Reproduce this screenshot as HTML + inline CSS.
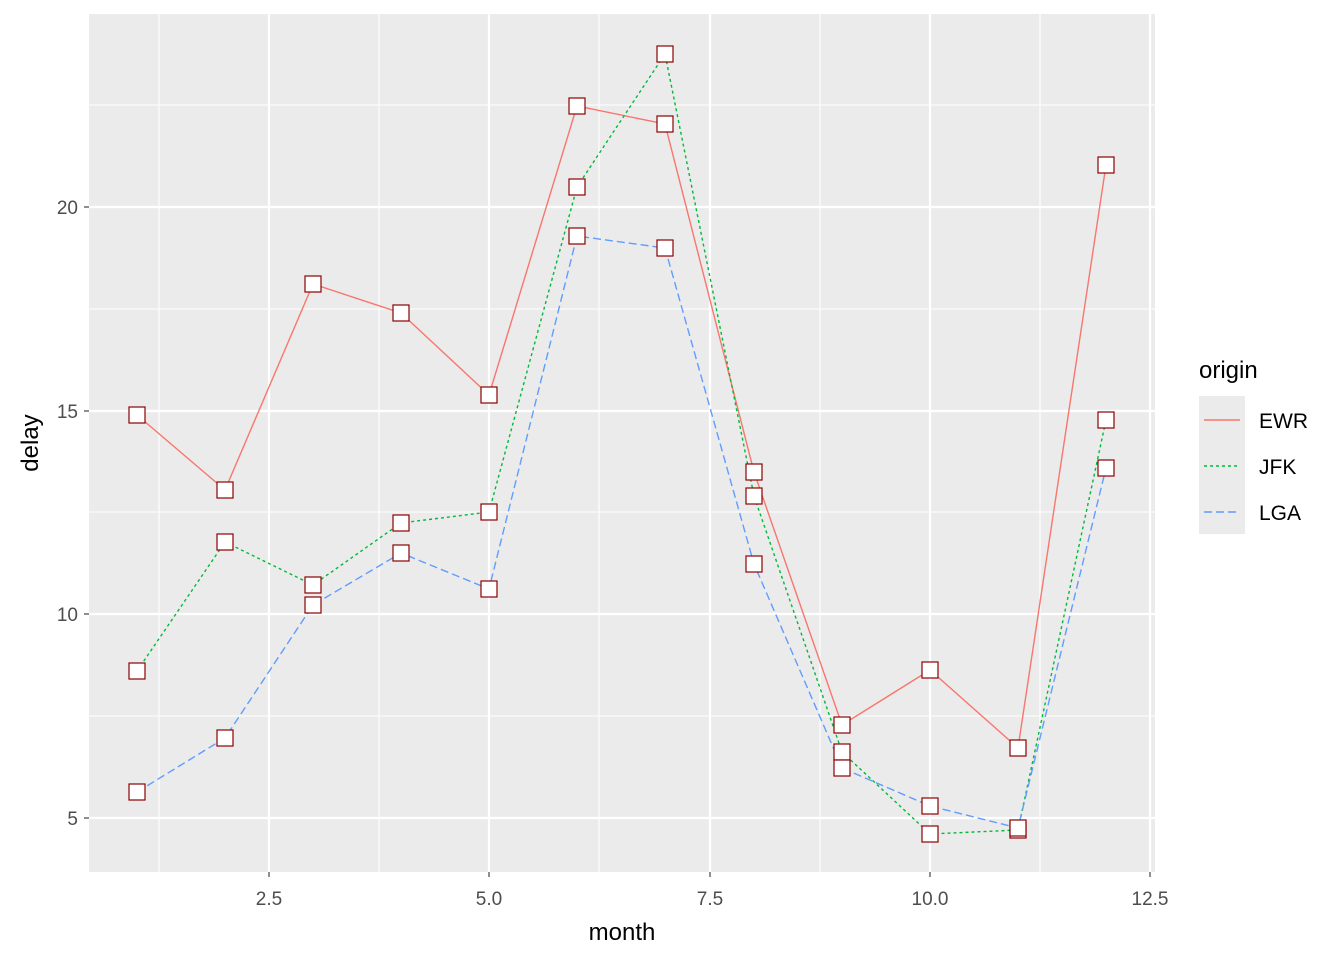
<!DOCTYPE html>
<html><head><meta charset="utf-8"><style>body{margin:0;background:#fff}svg{display:block}</style></head><body>
<svg width="1344" height="960" xmlns="http://www.w3.org/2000/svg" font-family="Liberation Sans, sans-serif">
<rect width="1344" height="960" fill="#fff"/>
<rect x="89" y="14" width="1066" height="858" fill="#EBEBEB"/>
<g stroke="#fff" stroke-width="1.1">
<line x1="159" y1="14" x2="159" y2="872"/><line x1="379" y1="14" x2="379" y2="872"/><line x1="599" y1="14" x2="599" y2="872"/><line x1="820" y1="14" x2="820" y2="872"/><line x1="1040" y1="14" x2="1040" y2="872"/>
<line x1="89" y1="105" x2="1155" y2="105"/><line x1="89" y1="309" x2="1155" y2="309"/><line x1="89" y1="512" x2="1155" y2="512"/><line x1="89" y1="716" x2="1155" y2="716"/>
</g>
<g stroke="#fff" stroke-width="2.2">
<line x1="269" y1="14" x2="269" y2="872"/><line x1="489" y1="14" x2="489" y2="872"/><line x1="710" y1="14" x2="710" y2="872"/><line x1="930" y1="14" x2="930" y2="872"/><line x1="1150" y1="14" x2="1150" y2="872"/>
<line x1="89" y1="207" x2="1155" y2="207"/><line x1="89" y1="411" x2="1155" y2="411"/><line x1="89" y1="614" x2="1155" y2="614"/><line x1="89" y1="818" x2="1155" y2="818"/>
</g>
<g fill="none" stroke-width="1.4">
<polyline stroke="#F8766D" points="137,415 225,490 313,284 401,313 489,395 577,106 665,124 754,472 842,725 930,670 1018,748 1106,165"/>
<polyline stroke="#00BA38" stroke-dasharray="3,3" points="137,671 225,542 313,585 401,523 489,512 577,187 665,54 754,496 842,752 930,834 1018,830 1106,420"/>
<polyline stroke="#619CFF" stroke-dasharray="8,4" points="137,792 225,738 313,605 401,553 489,589 577,236 665,248 754,564 842,768 930,806 1018,828 1106,468"/>
</g>
<g fill="#fff" stroke="#8B0000" stroke-width="1.2">
<rect x="129" y="407" width="16" height="16"/><rect x="217" y="482" width="16" height="16"/><rect x="305" y="276" width="16" height="16"/><rect x="393" y="305" width="16" height="16"/><rect x="481" y="387" width="16" height="16"/><rect x="569" y="98" width="16" height="16"/><rect x="657" y="116" width="16" height="16"/><rect x="746" y="464" width="16" height="16"/><rect x="834" y="717" width="16" height="16"/><rect x="922" y="662" width="16" height="16"/><rect x="1010" y="740" width="16" height="16"/><rect x="1098" y="157" width="16" height="16"/>
<rect x="129" y="663" width="16" height="16"/><rect x="217" y="534" width="16" height="16"/><rect x="305" y="577" width="16" height="16"/><rect x="393" y="515" width="16" height="16"/><rect x="481" y="504" width="16" height="16"/><rect x="569" y="179" width="16" height="16"/><rect x="657" y="46" width="16" height="16"/><rect x="746" y="488" width="16" height="16"/><rect x="834" y="744" width="16" height="16"/><rect x="922" y="826" width="16" height="16"/><rect x="1010" y="822" width="16" height="16"/><rect x="1098" y="412" width="16" height="16"/>
<rect x="129" y="784" width="16" height="16"/><rect x="217" y="730" width="16" height="16"/><rect x="305" y="597" width="16" height="16"/><rect x="393" y="545" width="16" height="16"/><rect x="481" y="581" width="16" height="16"/><rect x="569" y="228" width="16" height="16"/><rect x="657" y="240" width="16" height="16"/><rect x="746" y="556" width="16" height="16"/><rect x="834" y="760" width="16" height="16"/><rect x="922" y="798" width="16" height="16"/><rect x="1010" y="820" width="16" height="16"/><rect x="1098" y="460" width="16" height="16"/>
</g>
<g stroke="#333" stroke-width="1.1">
<line x1="269" y1="872" x2="269" y2="877"/><line x1="489" y1="872" x2="489" y2="877"/><line x1="710" y1="872" x2="710" y2="877"/><line x1="930" y1="872" x2="930" y2="877"/><line x1="1150" y1="872" x2="1150" y2="877"/>
<line x1="84" y1="207" x2="89" y2="207"/><line x1="84" y1="411" x2="89" y2="411"/><line x1="84" y1="614" x2="89" y2="614"/><line x1="84" y1="818" x2="89" y2="818"/>
</g>
<g fill="#4D4D4D" font-size="19">
<g text-anchor="middle"><text x="269" y="905">2.5</text><text x="489" y="905">5.0</text><text x="710" y="905">7.5</text><text x="930" y="905">10.0</text><text x="1150" y="905">12.5</text></g>
<g text-anchor="end"><text x="78" y="214">20</text><text x="78" y="418">15</text><text x="78" y="621">10</text><text x="78" y="825">5</text></g>
</g>
<text x="622" y="940" font-size="24" text-anchor="middle">month</text>
<text transform="translate(38,443) rotate(-90)" font-size="24" text-anchor="middle">delay</text>
<text x="1199" y="378" font-size="24">origin</text>
<rect x="1199" y="396" width="46" height="138" fill="#EBEBEB"/>
<line x1="1204" y1="420" x2="1240" y2="420" stroke="#F8766D" stroke-width="1.4"/>
<line x1="1204" y1="466" x2="1240" y2="466" stroke="#00BA38" stroke-width="1.4" stroke-dasharray="3,3"/>
<line x1="1204" y1="512" x2="1240" y2="512" stroke="#619CFF" stroke-width="1.4" stroke-dasharray="8,4"/>
<g font-size="21" fill="#000"><text x="1259" y="428">EWR</text><text x="1259" y="474">JFK</text><text x="1259" y="520">LGA</text></g>
</svg>
</body></html>
